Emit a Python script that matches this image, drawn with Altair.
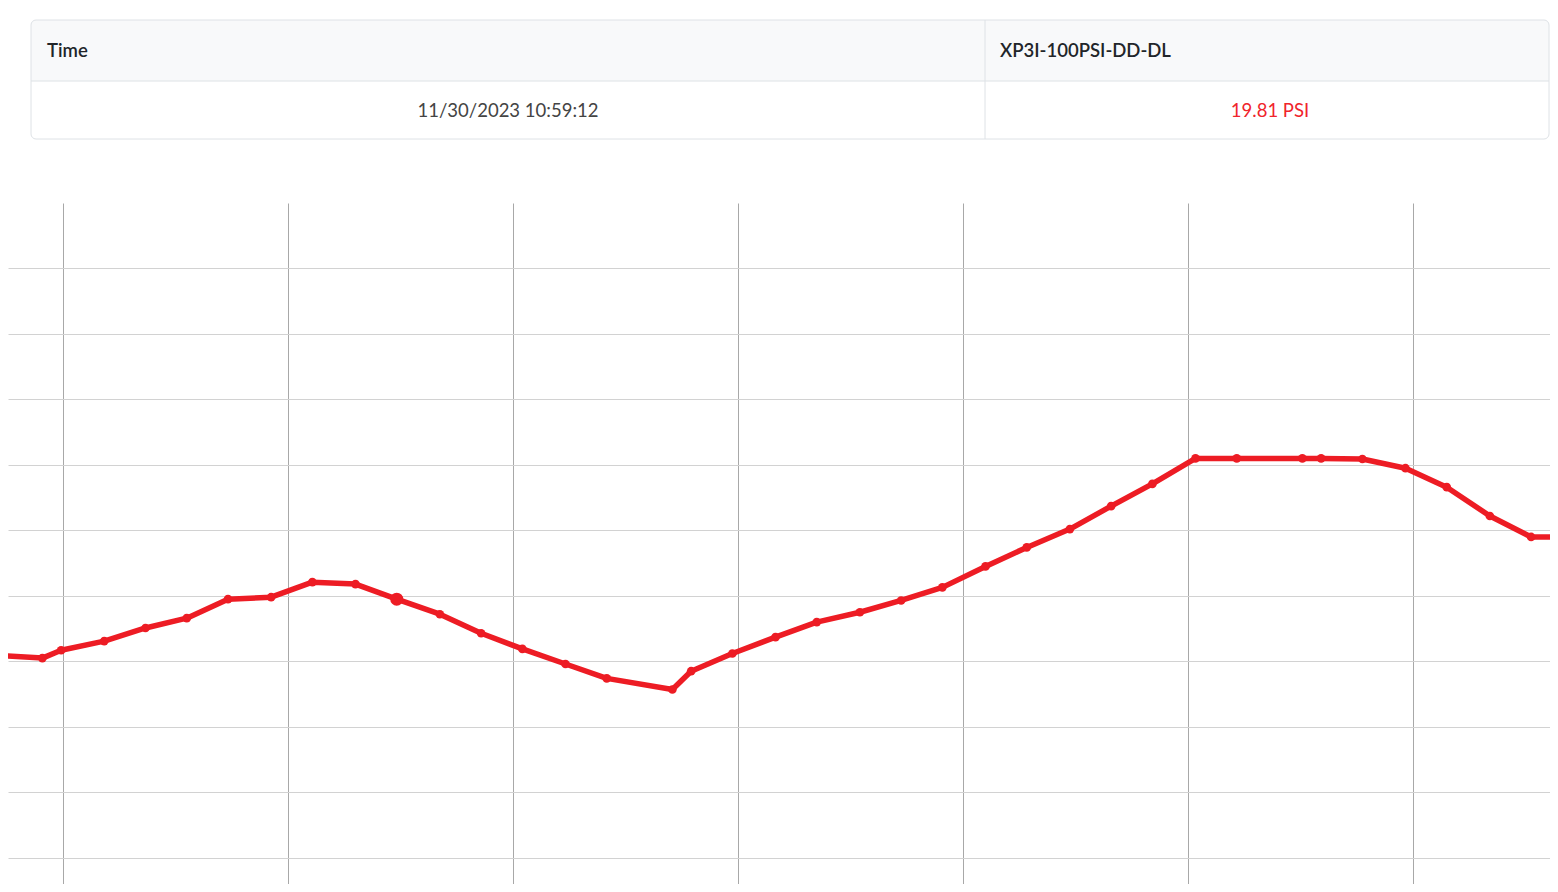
import altair as alt
import pandas as pd

# ---- data ----
TIMES = ["07:26", "07:49", "07:59", "08:22", "08:44", "09:06", "09:28", "09:51",
         "10:13", "10:36", "10:58", "11:21", "11:43", "12:05", "12:28", "12:50",
         "13:25", "13:35", "13:57", "14:20", "14:42", "15:05", "15:27", "15:49",
         "16:12", "16:34", "16:57", "17:19", "17:41", "18:04", "18:26", "19:01",
         "19:11", "19:33", "19:56", "20:18", "20:41", "21:03", "21:25"]
PSI = [19.8009, 19.8005, 19.8017, 19.8031, 19.8051, 19.8066, 19.8095, 19.8098,
       19.8121, 19.8118, 19.8095, 19.8072, 19.8043, 19.8019, 19.7996, 19.7974,
       19.7957, 19.7985, 19.8012, 19.8037, 19.8060, 19.8075, 19.8093, 19.8113,
       19.8145, 19.8174, 19.8202, 19.8237, 19.8271, 19.8310, 19.8310, 19.8310,
       19.8310, 19.8309, 19.8295, 19.8266, 19.8222, 19.8190, 19.8190]
HOVER_TIME = "10:58"

HEADERS = ["Time", "XP3I-100PSI-DD-DL"]
ROW = ["11/30/2023 10:59:12", "19.81 PSI"]

X_GRID = [8, 10, 12, 14, 16, 18, 20]
Y_GRID = [19.77, 19.78, 19.79, 19.80, 19.81, 19.82, 19.83, 19.84, 19.85, 19.86]
X_DOMAIN = [7.5111, 21.2178]
Y_DOMAIN = [19.766, 19.87]

RED = "#ed1c24"
FONT = "Lato, 'Open Sans', sans-serif"

df = pd.DataFrame({"time": TIMES, "psi": PSI})
df["hour"] = df["time"].map(lambda s: int(s[:2]) + int(s[3:]) / 60.0)

x = alt.X("hour:Q",
          scale=alt.Scale(domain=X_DOMAIN, nice=False, zero=False),
          axis=alt.Axis(values=X_GRID, grid=True, gridColor="#a8a8a8", gridWidth=1,
                        labels=False, ticks=False, domain=False, title=None))
y = alt.Y("psi:Q",
          scale=alt.Scale(domain=Y_DOMAIN, nice=False, zero=False),
          axis=alt.Axis(values=Y_GRID, grid=True, gridColor="#d2d2d2", gridWidth=1,
                        labels=False, ticks=False, domain=False, title=None))

line = alt.Chart(df).mark_line(color=RED, strokeWidth=5.5, clip=True,
                               strokeJoin="round", strokeCap="round").encode(x=x, y=y)
pts = alt.Chart(df).mark_circle(color=RED, size=75, opacity=1, clip=True).encode(x=x, y=y)
hover = (alt.Chart(df).transform_filter(alt.datum.time == HOVER_TIME)
         .mark_circle(color=RED, size=170, opacity=1).encode(x=x, y=y))

# ---- table above the plot (pixel offsets relative to plot origin) ----
one = pd.DataFrame({"k": [0]})
hdr = pd.DataFrame({"label": HEADERS})
row = pd.DataFrame({"label": ROW})

TX1, TX2 = 23, 1541
table_bg = alt.Chart(one).mark_rect(fill="white", cornerRadius=5).encode(
    x=alt.value(TX1), x2=alt.value(TX2), y=alt.value(-183), y2=alt.value(-64))
header_bg = alt.Chart(one).mark_rect(fill="#f8f9fa", cornerRadiusTopLeft=5,
                                     cornerRadiusTopRight=5).encode(
    x=alt.value(TX1), x2=alt.value(TX2), y=alt.value(-183), y2=alt.value(-122))
sep = alt.Chart(one).mark_rule(color="#dee2e6", strokeWidth=1).encode(
    x=alt.value(TX1), x2=alt.value(TX2), y=alt.value(-122))
divider = alt.Chart(one).mark_rule(color="#dee2e6", strokeWidth=1).encode(
    x=alt.value(977), y=alt.value(-183), y2=alt.value(-64))
border = alt.Chart(one).mark_rect(fill="white", fillOpacity=0, stroke="#dee2e6",
                                  strokeWidth=1, cornerRadius=5).encode(
    x=alt.value(TX1), x2=alt.value(TX2), y=alt.value(-183), y2=alt.value(-64))

h_time = alt.Chart(hdr.iloc[[0]]).mark_text(
    font=FONT, fontSize=18.5, fontWeight=600, color="#212529",
    align="left", baseline="middle").encode(
    text="label:N", x=alt.value(39), y=alt.value(-152))
h_dev = alt.Chart(hdr.iloc[[1]]).mark_text(
    font=FONT, fontSize=18.5, fontWeight=600, color="#212529",
    align="left", baseline="middle").encode(
    text="label:N", x=alt.value(992), y=alt.value(-152))
r_time = alt.Chart(row.iloc[[0]]).mark_text(
    font=FONT, fontSize=18.5, color="#444444",
    align="center", baseline="middle").encode(
    text="label:N", x=alt.value(500), y=alt.value(-92))
r_val = alt.Chart(row.iloc[[1]]).mark_text(
    font=FONT, fontSize=18.5, color="#f0242c",
    align="center", baseline="middle").encode(
    text="label:N", x=alt.value(1262), y=alt.value(-92))

chart = alt.layer(
    line, pts, hover,
    table_bg, header_bg, sep, divider, border,
    h_time, h_dev, r_time, r_val,
).properties(
    width=1542, height=681,
    background="white",
    autosize=alt.AutoSizeParams(type="none"),
    padding={"left": 0, "top": 195, "right": 0, "bottom": 0},
).configure_view(stroke="transparent", strokeWidth=0)

chart.save("out.html", embed_options={"renderer": "svg", "actions": False})
